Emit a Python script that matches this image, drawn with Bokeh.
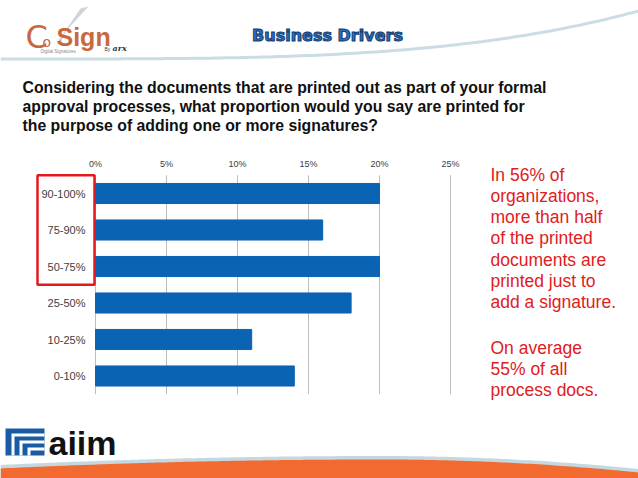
import numpy as np
from bokeh.plotting import figure
from bokeh.models import Range1d
from bokeh.core.properties import value
from bokeh.embed import file_html
from bokeh.resources import INLINE

# ---- data ----
categories = ["0-10%", "10-25%", "25-50%", "50-75%", "75-90%", "90-100%"]
shares = [0.14, 0.11, 0.18, 0.20, 0.16, 0.20]
x_ticks = [0, 0.05, 0.10, 0.15, 0.20, 0.25]
x_tick_labels = ["0%", "5%", "10%", "15%", "20%", "25%"]
highlighted = ["50-75%", "75-90%", "90-100%"]

title_text = "Business Drivers"
question_lines = [
    "Considering the documents that are printed out as part of your formal",
    "approval processes, what proportion would you say are printed for",
    "the purpose of adding one or more signatures?",
]
note_lines_1 = ["In 56% of", "organizations,", "more than half", "of the printed",
                "documents are", "printed just to", "add a signature."]
note_lines_2 = ["On average", "55% of all", "process docs."]

W, H = 638, 478

# chart placement on the slide (pixels)
PX0, PX1 = 95, 450          # 0% and 25%
CAT_TOP, CAT_STEP = 193, 36.5  # centre of top category, spacing
xmax = x_ticks[-1]
per_px = xmax / (PX1 - PX0)
n = len(categories)
y_bottom_center = CAT_TOP + (n - 1) * CAT_STEP

p = figure(width=W, height=H, output_backend="svg", toolbar_location=None,
           x_range=Range1d(0, W), y_range=Range1d(H, 0),
           x_axis_type=None, y_axis_type=None, min_border=0)
p.outline_line_color = None
p.grid.visible = False
p.background_fill_color = "white"
p.border_fill_color = "white"
p.extra_x_ranges = {"pct": Range1d(-PX0 * per_px, xmax + (W - PX1) * per_px)}
p.extra_y_ranges = {"cat": Range1d((y_bottom_center - H) / CAT_STEP,
                                   y_bottom_center / CAT_STEP)}

ypos = list(range(n))
FONT = value("Liberation Sans")

# ---- decorations: header curve & bottom band ----
t = np.linspace(0, W, 120)
hdr = 58 - 48 * (t / W) ** 3.6
p.patch(list(t) + list(t[::-1]), list(hdr - 1.0) + list(hdr[::-1] + 2.0),
        fill_color="#CADDE4", line_color=None)

bt = np.linspace(0, W, 160)
band = np.where(bt < 380, 459 + 6.2e-5 * (bt - 380) ** 2, 459 + 1.95e-4 * (bt - 380) ** 2)
p.patch(list(bt) + [W, 0], list(band - 3.5) + [H, H], fill_color="#C4D8E0", line_color=None)
p.patch(list(bt) + [W, 0], list(band) + [H, H], fill_color="#F26A30", line_color=None)

# ---- chart ----
seg_top = [n - 0.5] * len(x_ticks)
seg_bot = [-0.5] * len(x_ticks)
p.segment(x0=x_ticks, x1=x_ticks, y0=seg_bot, y1=seg_top, line_color="#BDBDBD",
          line_width=1, x_range_name="pct", y_range_name="cat")
p.hbar(y=ypos, right=shares, left=0, height=0.55, color="#0A63B3",
       x_range_name="pct", y_range_name="cat")
p.text(x=[0] * n, y=ypos, text=categories, x_offset=-10, text_align="right",
       text_baseline="middle", text_font=FONT, text_font_size="11px",
       text_color="#404040", x_range_name="pct", y_range_name="cat")
p.text(x=x_ticks, y=[n - 0.5] * len(x_ticks), text=x_tick_labels, y_offset=-11,
       text_align="center", text_baseline="middle", text_font=FONT,
       text_font_size="9px", text_color="#404040", x_range_name="pct", y_range_name="cat")

# red highlight box around the top three category labels
hi = [categories.index(c) for c in highlighted]
p.quad(left=[37], right=[94], bottom=[min(hi) - 0.5], top=[max(hi) + 0.5],
       fill_color=None, line_color="#E3191C", line_width=2.5, y_range_name="cat")

# ---- slide texts ----
p.text(x=[327], y=[35], text=[title_text], text_align="center", text_baseline="middle",
       text_font=value("DejaVu Sans"), text_font_style="bold", text_font_size="16px",
       text_color="#2B6FC0", text_outline_color="#123A6E")

p.text(x=[22] * len(question_lines), y=[87 + i * 19 for i in range(len(question_lines))],
       text=question_lines, text_baseline="middle", text_font=FONT,
       text_font_style="bold", text_font_size="15.8px", text_color="#111111")

p.text(x=[490] * len(note_lines_1), y=[174 + i * 21.3 for i in range(len(note_lines_1))],
       text=note_lines_1, text_baseline="middle", text_font=FONT,
       text_font_size="17.5px", text_color="#E0201C")
p.text(x=[490] * len(note_lines_2), y=[347 + i * 21.3 for i in range(len(note_lines_2))],
       text=note_lines_2, text_baseline="middle", text_font=FONT,
       text_font_size="17.5px", text_color="#E0201C")

# ---- CoSign logo (approximation) ----
p.patch([58, 80, 88, 66, 60], [40, 8, 6, 30, 42], fill_color="#C9CED3", fill_alpha=0.85,
        line_color=None)
p.text(x=[25], y=[36], text=["C"], text_baseline="middle", text_font=value("DejaVu Sans"),
       text_font_size="32px", text_color="#C9683F")
p.text(x=[42], y=[41], text=["o"], text_baseline="middle", text_font=value("DejaVu Sans"),
       text_font_size="14px", text_color="#C9683F")
p.text(x=[56], y=[36], text=["Sign"], text_baseline="middle", text_font=FONT,
       text_font_style="bold", text_font_size="25px", text_color="#C9683F")
p.text(x=[40], y=[51], text=["Digital Signatures"], text_baseline="middle", text_font=FONT,
       text_font_size="4.5px", text_color="#8A8A8A")
p.text(x=[104], y=[48], text=["By"], text_baseline="middle", text_font=FONT,
       text_font_size="5px", text_color="#444444")
p.text(x=[112], y=[47], text=["arx"], text_baseline="middle", text_font=value("DejaVu Serif"),
       text_font_style="bold italic", text_font_size="8px", text_color="#333333")

# ---- aiim logo ----
p.patch([5, 44, 44, 5], [428, 428, 455, 455], fill_color="#1A5BA6", line_color=None)
p.patch([11, 44, 44, 14, 14, 11], [433, 433, 436, 436, 455, 455], fill_color="white",
        line_color=None)
p.patch([19, 44, 44, 22, 22, 19], [440, 440, 443, 443, 455, 455], fill_color="white",
        line_color=None)
p.patch([27, 44, 44, 30, 30, 27], [447, 447, 450, 450, 455, 455], fill_color="white",
        line_color=None)
p.text(x=[48], y=[442], text=["aiim"], text_baseline="middle", text_font=FONT,
       text_font_style="bold", text_font_size="34px", text_color="#111111")

open("out.html", "w").write(file_html(p, INLINE))
